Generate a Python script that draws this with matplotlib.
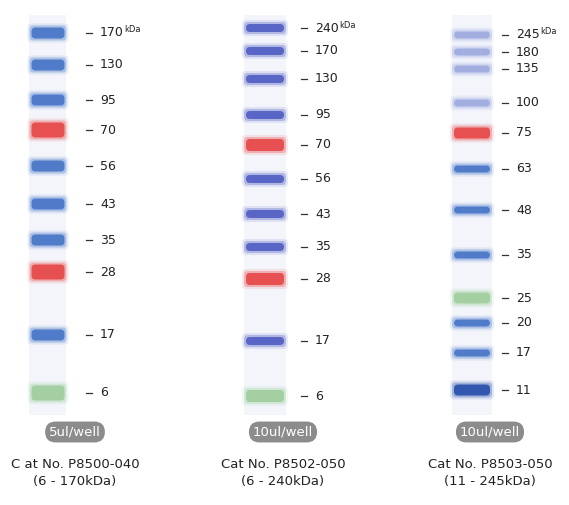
import matplotlib.pyplot as plt
from matplotlib.patches import FancyBboxPatch

# band sizes (kDa), migration position (px from top) and colour key per lane
lane1_kda = [170, 130, 95, 70, 56, 43, 35, 28, 17, 6]
lane1_pos = [33, 65, 100, 130, 166, 204, 240, 272, 335, 393]
lane1_col = ['b', 'b', 'b', 'r', 'b', 'b', 'b', 'r', 'b', 'g']

lane2_kda = [240, 170, 130, 95, 70, 56, 43, 35, 28, 17, 6]
lane2_pos = [28, 51, 79, 115, 145, 179, 214, 247, 279, 341, 396]
lane2_col = ['b', 'b', 'b', 'b', 'r', 'b', 'b', 'b', 'r', 'b', 'g']

lane3_kda = [245, 180, 135, 100, 75, 63, 48, 35, 25, 20, 17, 11]
lane3_pos = [35, 52, 69, 103, 133, 169, 210, 255, 298, 323, 353, 390]
lane3_col = ['l', 'l', 'l', 'l', 'r', 'b', 'b', 'b', 'g', 'b', 'b', 'd']

volumes = ['5ul/well', '10ul/well', '10ul/well']
captions = ['C at No. P8500-040\n(6 - 170kDa)',
            'Cat No. P8502-050\n(6 - 240kDa)',
            'Cat No. P8503-050\n(11 - 245kDa)']

colors = {'b': '#3f6fc4', 'r': '#e6403f', 'g': '#9ccc9a', 'l': '#9aa8de', 'd': '#1f48a8'}
lane2_blue = '#4a58c0'

lanes = [
    (48, 33, 11, lane1_kda, lane1_pos, lane1_col, 86, 100, 75),
    (265, 38, 8, lane2_kda, lane2_pos, lane2_col, 301, 315, 283),
    (472, 36, 7, lane3_kda, lane3_pos, lane3_col, 502, 516, 490),
]

fig = plt.figure(figsize=(5.69, 5.05), dpi=100)
ax = fig.add_axes([0, 0, 1, 1])
ax.set_xlim(0, 569)
ax.set_ylim(505, 0)
ax.axis('off')

for i, (cx, w, hb, kda, pos, col, dash_x, lab_x, pill_x) in enumerate(lanes):
    # faint lane background
    ax.add_patch(plt.Rectangle((cx - w / 2 - 2, 15), w + 4, 400, color='#f3f5fb', lw=0, zorder=0))
    for k, (kd, y, c) in enumerate(zip(kda, pos, col)):
        fc = colors[c]
        if i == 1 and c == 'b':
            fc = lane2_blue
        h = hb + (4 if c in ('r', 'g', 'd') else 0)
        for grow, a in [(8, 0.12), (4, 0.3), (0, 0.85)]:
            ax.add_patch(FancyBboxPatch((cx - w / 2 - grow / 2, y - h / 2 - grow / 2), w + grow, h + grow,
                                        boxstyle='round,pad=0,rounding_size=4', fc=fc, ec='none',
                                        alpha=a, zorder=1))
        ax.plot([dash_x, dash_x + 6], [y, y], color='#333333', lw=0.9)
        ax.text(lab_x, y, str(kd), fontsize=9, va='center', ha='left', color='#222222')
        if k == 0:
            ax.text(lab_x + 24, y - 3, 'kDa', fontsize=6, va='center', ha='left', color='#222222')
    ax.text(pill_x, 432, volumes[i], fontsize=9.5, color='white', ha='center', va='center',
            bbox=dict(boxstyle='round,pad=0.3,rounding_size=0.8', fc='#8c8c8c', ec='none'))
    ax.text(pill_x, 473, captions[i], fontsize=9.5, color='#222222', ha='center', va='center',
            linespacing=1.3)

fig.savefig('out.png', dpi=100)
